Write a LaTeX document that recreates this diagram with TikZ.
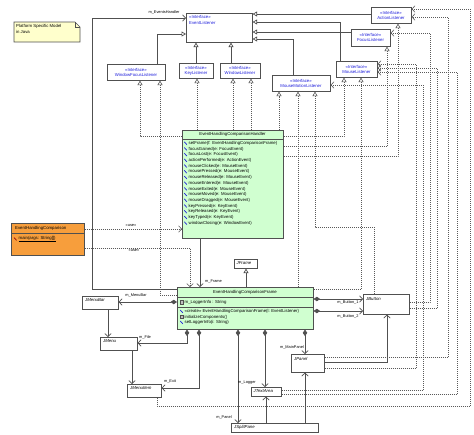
\documentclass[tikz,border=0pt]{standalone}
\usepackage{fontspec}
\setmainfont{Liberation Sans}
\usetikzlibrary{arrows.meta}
\definecolor{ifc}{RGB}{30,30,220}
\definecolor{grn}{RGB}{208,255,208}
\definecolor{org}{RGB}{247,158,60}
\definecolor{notec}{RGB}{255,255,204}
\definecolor{ln}{RGB}{80,80,80}
\definecolor{dl}{RGB}{90,90,90}
\tikzset{
  box/.style={draw=ln, line width=0.6pt, fill=white, inner sep=0pt, anchor=north west},
  ifbox/.style={box},
  greenbox/.style={box, fill=grn},
  orangebox/.style={box, fill=org},
  txt/.style={font=\fontsize{4.3}{5}\selectfont, inner sep=0pt},
  itxt/.style={txt, text=ifc},
  lbl/.style={font=\fontsize{3.9}{4.5}\selectfont, inner sep=0pt},
  solid line/.style={draw=ln, line width=0.7pt},
  gen/.style={solid line, -{Triangle[open, length=4.5pt, width=5pt]}},
  assoc/.style={solid line, -{Straight Barb[length=3pt, width=6.5pt]}},
  comp/.style={solid line, {Diamond[length=6.5pt, width=4.5pt]}-{Straight Barb[length=3pt, width=6.5pt]}},
  dotline/.style={draw=dl, line width=0.7pt, dash pattern=on 0.7pt off 1.3pt},
  real/.style={dotline, -{Triangle[open, length=4.5pt, width=5pt, line width=0.6pt]}},
  dep/.style={dotline, -{Straight Barb[length=3pt, width=6.5pt, line width=0.6pt]}},
  micon/.style={draw=ifc, line width=0.7pt},
}
\newcommand\ubox[6]{\node[#6, minimum width={(#4-#2)*1pt}, minimum height={(#5-#3)*1pt}] (#1) at (#2,#3) {};}
\begin{document}
\begin{tikzpicture}[x=1pt, y=-1pt]
\useasboundingbox (0,0) rectangle (474,434);
% note
\draw[draw=ln, fill=notec, line width=0.6pt] (14,22) -- (75,22) -- (80,27) -- (80,42) -- (14,42) -- cycle;
\draw[draw=ln, line width=0.5pt] (75,22) -- (75,27) -- (80,27);
\node[txt, anchor=west] (note1) at (16,26.5) {Platform Specific Model};
\node[txt, anchor=west] (note2) at (16,31.5) {in Java};
% interfaces
\ubox{el}{186}{13}{252}{42}{ifbox}
\node[itxt, anchor=west] (elt1) at (189,17) {\textless\textless Interface\textgreater\textgreater};
\node[itxt, anchor=west] (elt2) at (189,23) {EventListener};
\ubox{al}{371}{7}{411}{23}{ifbox}
\node[itxt, align=center] (alt) at (391,15) {\textless\textless Interface\textgreater\textgreater\\ActionListener};
\ubox{fl}{351}{29}{390}{46}{ifbox}
\node[itxt, align=center] (flt) at (370.5,37.5) {\textless\textless Interface\textgreater\textgreater\\FocusListener};
\ubox{ml}{336}{61}{377}{77}{ifbox}
\node[itxt, align=center] (mlt) at (356.5,69) {\textless\textless Interface\textgreater\textgreater\\MouseListener};
\ubox{mml}{272}{75}{330}{91}{ifbox}
\node[itxt, align=center] (mmlt) at (301,83) {\textless\textless Interface\textgreater\textgreater\\MouseMotionListener};
\ubox{wfl}{107}{64}{165}{80}{ifbox}
\node[itxt, align=center] (wflt) at (136,72) {\textless\textless Interface\textgreater\textgreater\\WindowFocusListener};
\ubox{kl}{179}{63}{213}{78}{ifbox}
\node[itxt, align=center] (klt) at (196,70.5) {\textless\textless Interface\textgreater\textgreater\\KeyListener};
\ubox{wl}{220}{63}{260}{78}{ifbox}
\node[itxt, align=center] (wlt) at (240,70.5) {\textless\textless Interface\textgreater\textgreater\\WindowListener};
% handler
\ubox{hd}{182}{130}{283}{238}{greenbox}
\draw[draw=ln, line width=0.6pt] (182,139.5) -- (283,139.5);
\node[txt] (hdt) at (232.5,134.8) {EventHandlingComparisonHandler};
\foreach \m [count=\i from 0] in {{setFrame(f: EventHandlingComparisonFrame)},{focusGained(e: FocusEvent)},{focusLost(e: FocusEvent)},{actionPerformed(e: ActionEvent)},{mouseClicked(e: MouseEvent)},{mousePressed(e: MouseEvent)},{mouseReleased(e: MouseEvent)},{mouseEntered(e: MouseEvent)},{mouseExited(e: MouseEvent)},{mouseMoved(e: MouseEvent)},{mouseDragged(e: MouseEvent)},{keyPressed(e: KeyEvent)},{keyReleased(e: KeyEvent)},{keyTyped(e: KeyEvent)},{windowClosing(e: WindowEvent)}}{
  \node[txt, anchor=west] (hm\i) at (188.5,{143.3+\i*5.71}) {\m};
  \draw[micon] (184.3,{141.8+\i*5.71}) -- (186.8,{144.6+\i*5.71});
}
% main class
\ubox{ehc}{11}{223}{84}{255}{orangebox}
\draw[draw=ln, line width=0.6pt] (11,233) -- (84,233);
\node[txt, anchor=west] (ehct) at (15,228) {EventHandlingComparison};
\node[txt, anchor=west] (ehcm) at (18.5,239) {\underline{main(args: String[])}};
\draw[draw=red!60!black, line width=0.7pt] (14,237.5) -- (16.5,240.3);
% frame
\ubox{jf}{234}{259}{257}{268}{box}
\node[txt, anchor=west] (jft) at (236.5,263.5) {\itshape JFrame};
\ubox{fr}{177}{287}{313}{329}{greenbox}
\draw[draw=ln, line width=0.6pt] (177,297.5) -- (313,297.5);
\draw[draw=ln, line width=0.6pt] (177,307) -- (313,307);
\node[txt] (frt) at (245,292.3) {EventHandlingComparisonFrame};
\fill[draw=ln, fill=gray!50, line width=0.3pt] (180,300.5) rectangle (183.5,303.8);
\node[txt, anchor=west] (fra) at (184.5,302.3) {m\_LoggerInfo : String};
\node[txt, anchor=west] (fro1) at (184.5,311.5) {\textless\textless create\textgreater\textgreater\ EventHandlingComparisonFrame(l: EventListener)};
\node[txt, anchor=west] (fro2) at (184.5,317) {initializeComponents()};
\node[txt, anchor=west] (fro3) at (184.5,322.5) {setLoggerInfo(i: String)};
\draw[micon] (180.3,310) -- (182.8,312.8);
\fill[draw=ln, fill=gray!50, line width=0.3pt] (180,315.3) rectangle (183.5,318.6);
\draw[micon] (180.3,321) -- (182.8,323.8);
% swing classes
\ubox{jmb}{82}{296}{118}{309}{box}
\node[txt, anchor=west] (jmbt) at (85,300.5) {\itshape JMenuBar};
\ubox{jm}{100}{337}{137}{350}{box}
\node[txt, anchor=west] (jmt) at (103,341.5) {\itshape JMenu};
\ubox{jmi}{127}{384}{161}{397}{box}
\node[txt, anchor=west] (jmit) at (130,388.5) {\itshape JMenuItem};
\ubox{jb}{363}{294}{409}{314}{box}
\node[txt, anchor=west] (jbt) at (366,299) {\itshape JButton};
\ubox{jp}{291}{354}{324}{372}{box}
\node[txt, anchor=west] (jpt) at (294,358.5) {\itshape JPanel};
\ubox{jta}{251}{387}{281}{396}{box}
\node[txt, anchor=west] (jtat) at (253.5,391.5) {\itshape JTextArea};
\ubox{jsp}{231}{423}{318}{432}{box}
\node[txt, anchor=west] (jspt) at (234,427.5) {\itshape JSplitPane};
% generalizations to EventListener
\draw[gen] (wfl.north -| 157,0) -- (157,34) -- (el.west |- 0,34);
\draw[gen] (kl.north -| 196,0) -- (el.south -| 196,0);
\draw[gen] (wl.north -| 231,0) -- (el.south -| 231,0);
\draw[gen] (al.west |- 0,14) -- (el.east |- 0,14);
\draw[gen] (ml.north -| 340,0) -- (340,22) -- (el.east |- 0,22);
\draw[gen] (fl.west |- 0,32) -- (el.east |- 0,32);
\draw[gen] (mml.north -| 293,0) -- (293,39) -- (el.east |- 0,39);
% associations
\draw[assoc] (fr.west |- 0,289) -- (92,289) -- (92,18) -- (el.west |- 0,18);
\node[lbl] (lev) at (164,12) {m\_EventsHandler};
\draw[assoc] (hd.south -| 200,0) -- (fr.north -| 200,0);
\node[lbl, anchor=west] (lfr) at (205,282) {m\_Frame};
\draw[gen] (fr.north -| 246,0) -- (jf.south -| 246,0);
\draw[comp] (fr.west |- 0,302) -- (jmb.east |- 0,302);
\node[lbl] (lmb) at (136,296) {m\_MenuBar};
\draw[comp] (fr.south -| 187,0) -- (187,343) -- (jm.east |- 0,343);
\node[lbl] (lfi) at (145,337) {m\_File};
\draw[comp] (fr.south -| 199,0) -- (199,388) -- (jmi.east |- 0,388);
\node[lbl] (lex) at (170,381) {m\_Exit};
\draw[comp] (fr.south -| 238,0) -- (jsp.north -| 238,0);
\node[lbl] (lpa) at (224,417) {m\_Panel};
\draw[comp] (fr.south -| 265,0) -- (jta.north -| 265,0);
\node[lbl] (llo) at (247,383) {m\_Logger};
\draw[comp] (fr.south -| 305,0) -- (jp.north -| 305,0);
\node[lbl] (lmp) at (292,347) {m\_MainPanel};
\draw[comp] (fr.east |- 0,299) -- (jb.west |- 0,299);
\node[lbl] (lb1) at (348,303) {m\_Button\_1};
\draw[comp] (fr.east |- 0,311) -- (jb.west |- 0,311);
\node[lbl] (lb2) at (348,316.5) {m\_Button\_2};
\draw[assoc] (jmb.south -| 108,0) -- (jm.north -| 108,0);
\draw[assoc] (jm.south -| 132,0) -- (jmi.north -| 132,0);
\draw[assoc] (jp.east |- 0,362) -- (387,362) -- (jb.south -| 387,0);
\draw[assoc] (jsp.north -| 266,0) -- (jta.south -| 266,0);
\draw[assoc] (jsp.north -| 305,0) -- (jp.south -| 305,0);
% use dependencies
\draw[dep] (ehc.east |- 0,229) -- (hd.west |- 0,229);
\node[lbl] (lu1) at (131,225.5) {\textless\textless use\textgreater\textgreater};
\draw[dep] (ehc.east |- 0,248) -- (190,248) -- (fr.north -| 190,0);
\node[lbl] (lu2) at (134,250) {\textless\textless use\textgreater\textgreater};
% realizations
\draw[real] (hd.west |- 0,136) -- (140,136) -- (wfl.south -| 140,0);
\draw[real] (fr.west |- 0,295) -- (160,295) -- (wfl.south -| 160,0);
\draw[real] (hd.north -| 197,0) -- (kl.south -| 197,0);
\draw[real] (hd.north -| 233,0) -- (wl.south -| 233,0);
\draw[real] (hd.north -| 251,0) -- (wl.south -| 251,0);
\draw[real] (hd.north -| 279,0) -- (mml.south -| 279,0);
\draw[real] (fr.north -| 298,0) -- (mml.south -| 298,0);
\draw[real] (jb.north -| 374,0) -- (374,227) -- (315,227) -- (mml.south -| 315,0);
\draw[real] (hd.east |- 0,136) -- (344,136) -- (ml.south -| 344,0);
\draw[real] (fr.east |- 0,289) -- (361,289) -- (ml.south -| 361,0);
\draw[real] (hd.east |- 0,146) -- (387,146) -- (fl.south -| 387,0);
\draw[real] (hd.east |- 0,156) -- (398,156) -- (al.south -| 398,0);
% other dependencies
\draw[dep] (jmi.south -| 157,0) -- (157,406) -- (470,406) -- (470,9) -- (al.east |- 0,9);
\draw[dep] (jb.east |- 0,302) -- (430,302) -- (430,33) -- (fl.east |- 0,33);
\draw[dep] (jb.east |- 0,308) -- (437,308) -- (437,68) -- (ml.east |- 0,68);
\draw[dep] (jta.east |- 0,390) -- (423,390) -- (423,85) -- (mml.east |- 0,85);
\draw[dep] (jta.east |- 0,394.5) -- (457,394.5) -- (457,72) -- (ml.east |- 0,72);
\draw[dep] (jp.east |- 0,368) -- (416,368) -- (416,64) -- (ml.east |- 0,64);
\draw[dep] (jp.east |- 0,357) -- (448,357) -- (448,17) -- (al.east |- 0,17);
\end{tikzpicture}
\end{document}
